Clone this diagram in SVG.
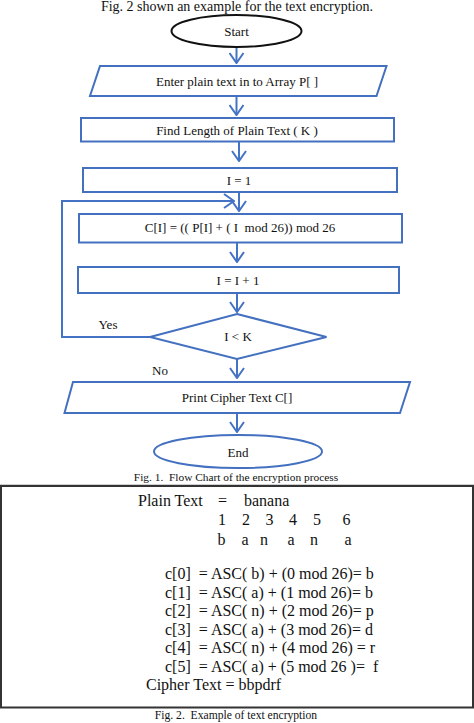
<svg xmlns="http://www.w3.org/2000/svg" width="474" height="723" viewBox="0 0 474 723">
<defs>
<style>
text{font-family:"Liberation Serif","Times New Roman",serif;fill:#111}
.f{font-size:13px;text-anchor:middle}
.shape{fill:#fff;stroke:#4470c0;stroke-width:2}
.con{fill:none;stroke:#4472c4;stroke-width:2}
.b{font-size:16px}
.cap{text-anchor:middle}
</style>
<marker id="arr" viewBox="0 0 12 16" refX="11" refY="8" markerWidth="12" markerHeight="16" markerUnits="userSpaceOnUse" orient="auto">
<path d="M1,1 L11,8 L1,15" fill="none" stroke="#4472c4" stroke-width="2"/>
</marker>
</defs>
<rect width="474" height="723" fill="#fff"/>
<text x="237" y="11" style="font-size:14px;text-anchor:middle">Fig. 2 shown an example for the text encryption.</text>

<g id="connectors">
<line class="con" x1="236.5" y1="47" x2="236.5" y2="63" marker-end="url(#arr)"/>
<line class="con" x1="236.5" y1="96" x2="236.5" y2="115" marker-end="url(#arr)"/>
<line class="con" x1="239" y1="142" x2="239" y2="161" marker-end="url(#arr)"/>
<line class="con" x1="239" y1="192" x2="239" y2="211" marker-end="url(#arr)"/>
<polyline class="con" points="150,337 62,337 62,201 234,201" marker-end="url(#arr)"/>
<line class="con" x1="237" y1="243" x2="237" y2="262" marker-end="url(#arr)"/>
<line class="con" x1="237" y1="293" x2="237" y2="312" marker-end="url(#arr)"/>
<line class="con" x1="237" y1="359" x2="237" y2="378" marker-end="url(#arr)"/>
<line class="con" x1="237" y1="413" x2="237" y2="432" marker-end="url(#arr)"/>
<text x="108" y="329" style="font-size:13px;text-anchor:middle">Yes</text>
<text x="160" y="375" style="font-size:13px;text-anchor:middle">No</text>
</g>

<g id="start">
<ellipse cx="236.5" cy="31" rx="65" ry="16" fill="#fff" stroke="#111" stroke-width="2"/>
<text class="f" x="236.5" y="35.5">Start</text>
</g>
<g id="input">
<polygon class="shape" points="100,66 386.5,66 376.5,96 90,96"/>
<text class="f" x="237" y="85.5">Enter plain text in to Array P[ ]</text>
</g>
<g id="length">
<rect class="shape" x="81" y="118" width="313" height="23.5"/>
<text class="f" x="237" y="135">Find Length of Plain Text ( K )</text>
</g>
<g id="init">
<rect class="shape" x="83" y="168" width="314" height="24"/>
<text class="f" x="239" y="184.5">I = 1</text>
</g>
<g id="compute">
<rect class="shape" x="79" y="214" width="323" height="28.5"/>
<text class="f" x="240" y="232" xml:space="preserve">C[I] = (( P[I] + ( I  mod 26)) mod 26</text>
</g>
<g id="inc">
<rect class="shape" x="78" y="267" width="321" height="26"/>
<text class="f" x="238" y="285">I = I + 1</text>
</g>
<g id="decision">
<polygon class="shape" points="237,314 326.5,337 237,359 150,337"/>
<text class="f" x="238" y="341">I &lt; K</text>
</g>
<g id="output">
<polygon class="shape" points="73,382 410,382 400,413 64.5,413"/>
<text class="f" x="237" y="402">Print Cipher Text C[]</text>
</g>
<g id="end">
<ellipse class="shape" cx="238" cy="451.5" rx="84" ry="16.5"/>
<text class="f" x="238" y="457">End</text>
</g>
<text class="cap" x="236" y="481" style="font-size:11.4px" xml:space="preserve">Fig. 1.  Flow Chart of the encryption process</text>

<g id="example">
<line x1="0" y1="484.8" x2="474" y2="484.8" stroke="#bbb" stroke-width="1"/>
<path d="M1,486 H473 V707.5 H1 Z" fill="none" stroke="#333" stroke-width="2"/>
<text class="b" x="138" y="506">Plain Text</text>
<text class="b" x="218" y="506">=</text>
<text class="b" x="244" y="506">banana</text>
<text class="b" x="218" y="524.5">1</text>
<text class="b" x="242" y="524.5">2</text>
<text class="b" x="265.5" y="524.5">3</text>
<text class="b" x="289" y="524.5">4</text>
<text class="b" x="313" y="524.5">5</text>
<text class="b" x="342.5" y="524.5">6</text>
<text class="b" x="217.5" y="544.5">b</text>
<text class="b" x="241.5" y="544.5">a</text>
<text class="b" x="260" y="544.5">n</text>
<text class="b" x="287.5" y="544.5">a</text>
<text class="b" x="310" y="544.5">n</text>
<text class="b" x="344.5" y="544.5">a</text>
<text class="b" x="165" y="579" xml:space="preserve">c[0]  = ASC( b) + (0 mod 26)= b</text>
<text class="b" x="165" y="597.5" xml:space="preserve">c[1]  = ASC( a) + (1 mod 26)= b</text>
<text class="b" x="165" y="616" xml:space="preserve">c[2]  = ASC( n) + (2 mod 26)= p</text>
<text class="b" x="165" y="634.5" xml:space="preserve">c[3]  = ASC( a) + (3 mod 26)= d</text>
<text class="b" x="165" y="653" xml:space="preserve">c[4]  = ASC( n) + (4 mod 26) = r</text>
<text class="b" x="165" y="671.5" xml:space="preserve">c[5]  = ASC( a) + (5 mod 26 )=  f</text>
<text class="b" x="146" y="689.5">Cipher Text = bbpdrf</text>
</g>
<text class="cap" x="236" y="718.5" style="font-size:11.6px" xml:space="preserve">Fig. 2.  Example of text encryption</text>
</svg>
